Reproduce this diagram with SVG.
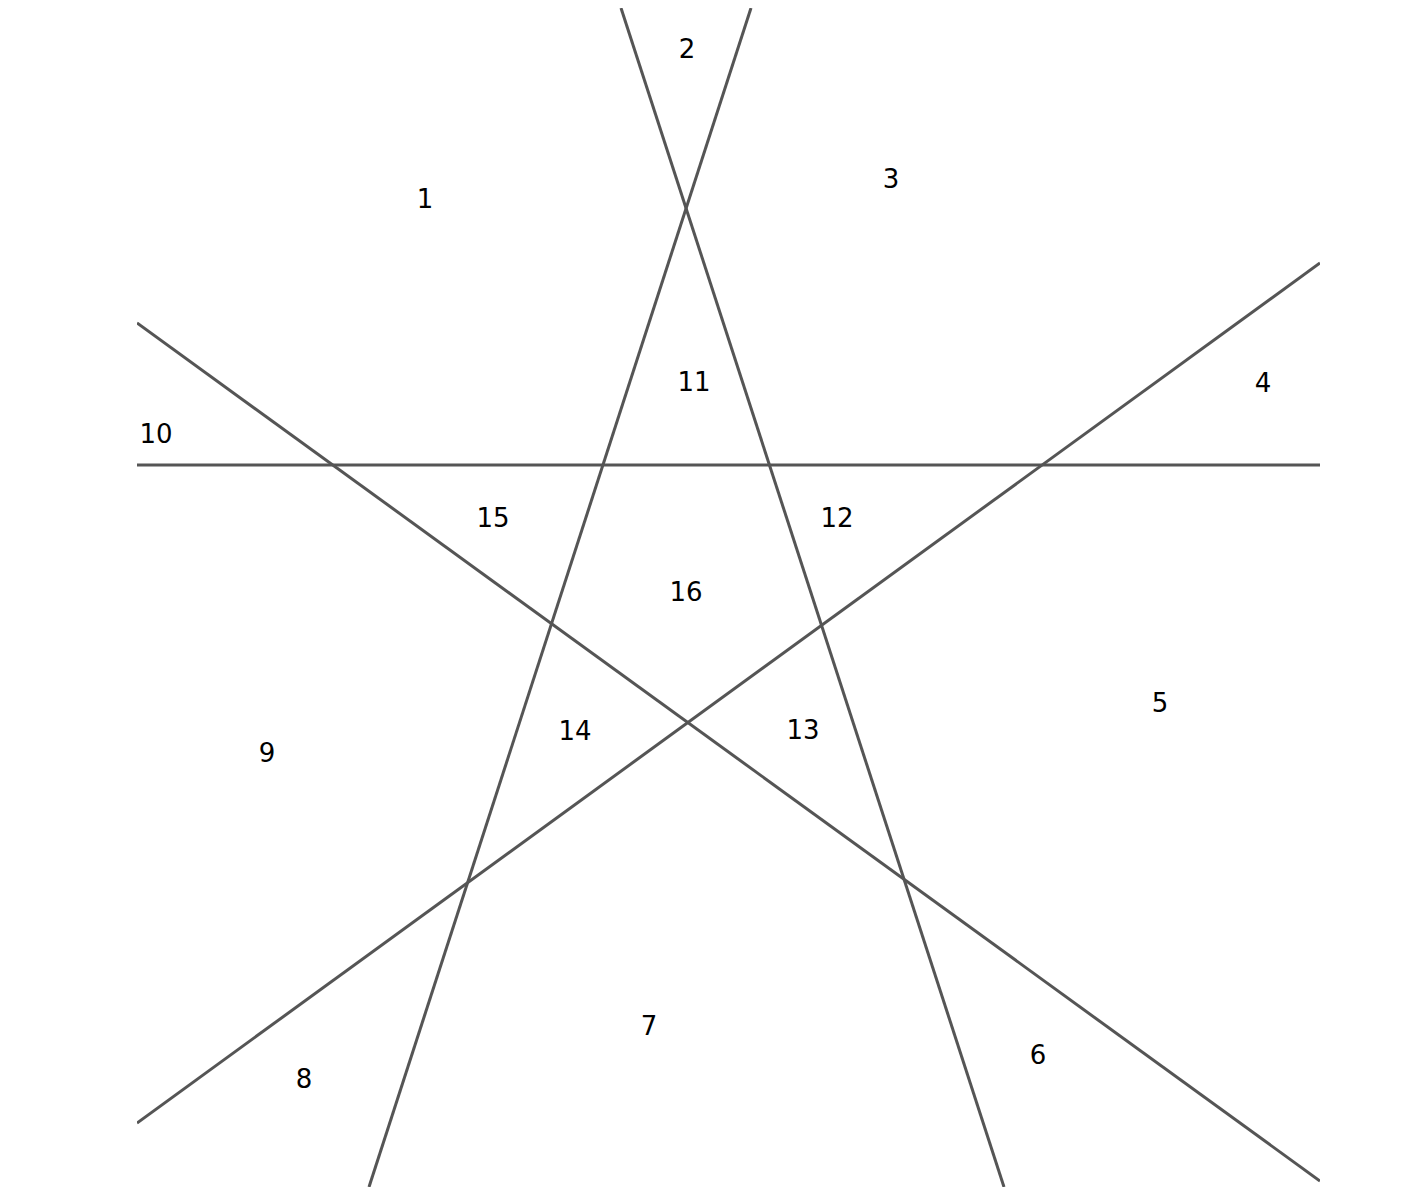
<svg xmlns="http://www.w3.org/2000/svg" width="1416" height="1203" viewBox="0 0 1416 1203">
<style>
.ln{stroke:#555;stroke-width:3;fill:none}
.lb{font-family:"Comic Sans MS","Humor Sans","DejaVu Sans",sans-serif;font-size:26px;fill:#000;text-anchor:middle;dominant-baseline:central}
</style>
<defs><clipPath id="c"><rect x="137" y="8" width="1183" height="1179"/></clipPath></defs>
<rect width="1416" height="1203" fill="#fff"/>
<g id="connectors" clip-path="url(#c)">
<line class="ln" x1="137" y1="465" x2="1320" y2="465"/>
<line class="ln" x1="621" y1="8" x2="1004" y2="1187"/>
<line class="ln" x1="751" y1="8" x2="369" y2="1187"/>
<line class="ln" x1="137" y1="323" x2="1320" y2="1181"/>
<line class="ln" x1="137" y1="1123" x2="1320" y2="263"/>
</g>
<g id="n1"><text class="lb" x="425" y="199">1</text></g>
<g id="n2"><text class="lb" x="687" y="49">2</text></g>
<g id="n3"><text class="lb" x="891" y="179">3</text></g>
<g id="n4"><text class="lb" x="1263" y="383">4</text></g>
<g id="n5"><text class="lb" x="1160" y="703">5</text></g>
<g id="n6"><text class="lb" x="1038" y="1055">6</text></g>
<g id="n7"><text class="lb" x="649" y="1026">7</text></g>
<g id="n8"><text class="lb" x="304" y="1079">8</text></g>
<g id="n9"><text class="lb" x="267" y="753">9</text></g>
<g id="n10"><text class="lb" x="156" y="434">10</text></g>
<g id="n11"><text class="lb" x="694" y="382">11</text></g>
<g id="n12"><text class="lb" x="837" y="518">12</text></g>
<g id="n13"><text class="lb" x="803" y="730">13</text></g>
<g id="n14"><text class="lb" x="575" y="731">14</text></g>
<g id="n15"><text class="lb" x="493" y="518">15</text></g>
<g id="n16"><text class="lb" x="686" y="592">16</text></g>
</svg>
